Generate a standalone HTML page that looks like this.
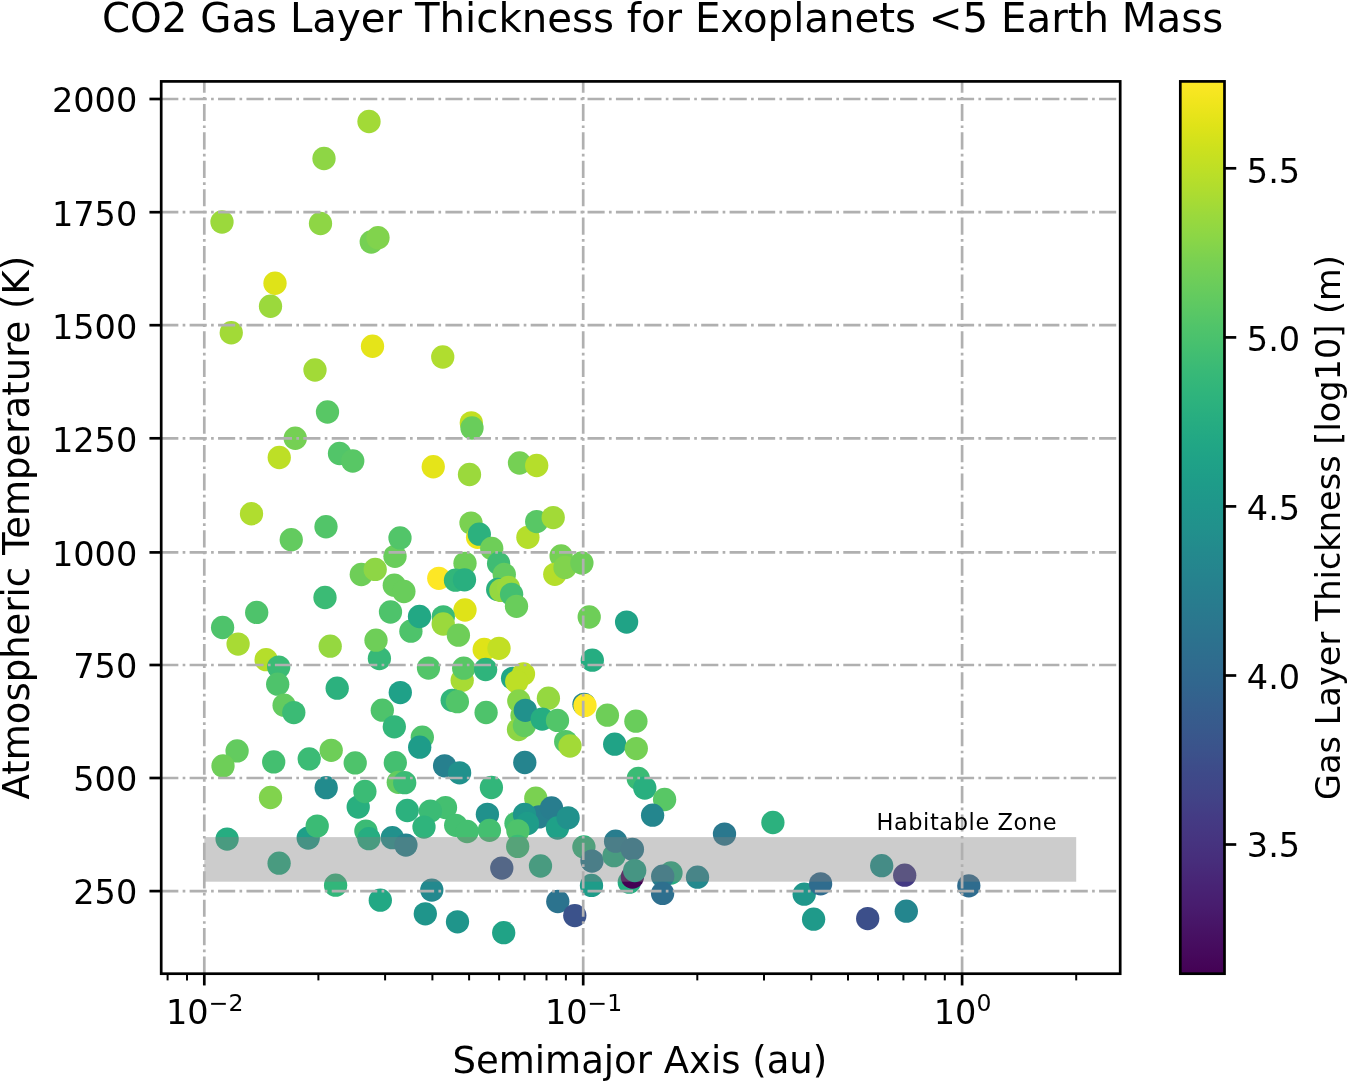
<!DOCTYPE html><html><head><meta charset="utf-8"><title>CO2 Gas Layer Thickness</title><style>html,body{margin:0;padding:0;background:#fff}body{width:1348px;height:1082px;overflow:hidden}</style></head><body><svg width="1348" height="1082" viewBox="0 0 1348 1082" style="display:block;font-family:'DejaVu Sans','Liberation Sans',sans-serif;filter:blur(0.55px)">
<defs><linearGradient id="vg" x1="0" y1="0" x2="0" y2="1"><stop offset="0.0000" stop-color="#fde725"/><stop offset="0.0250" stop-color="#efe51c"/><stop offset="0.0500" stop-color="#dfe318"/><stop offset="0.0750" stop-color="#cde11d"/><stop offset="0.1000" stop-color="#bddf26"/><stop offset="0.1250" stop-color="#addc30"/><stop offset="0.1500" stop-color="#9bd93c"/><stop offset="0.1750" stop-color="#8bd646"/><stop offset="0.2000" stop-color="#7ad151"/><stop offset="0.2250" stop-color="#6ccd5a"/><stop offset="0.2500" stop-color="#5ec962"/><stop offset="0.2750" stop-color="#50c46a"/><stop offset="0.3000" stop-color="#44bf70"/><stop offset="0.3250" stop-color="#38b977"/><stop offset="0.3500" stop-color="#2fb47c"/><stop offset="0.3750" stop-color="#28ae80"/><stop offset="0.4000" stop-color="#22a884"/><stop offset="0.4250" stop-color="#1fa287"/><stop offset="0.4500" stop-color="#1e9c89"/><stop offset="0.4750" stop-color="#1f968b"/><stop offset="0.5000" stop-color="#21918c"/><stop offset="0.5250" stop-color="#238a8d"/><stop offset="0.5500" stop-color="#25848e"/><stop offset="0.5750" stop-color="#277e8e"/><stop offset="0.6000" stop-color="#2a788e"/><stop offset="0.6250" stop-color="#2c728e"/><stop offset="0.6500" stop-color="#2f6c8e"/><stop offset="0.6750" stop-color="#31668e"/><stop offset="0.7000" stop-color="#355f8d"/><stop offset="0.7250" stop-color="#38598c"/><stop offset="0.7500" stop-color="#3b528b"/><stop offset="0.7750" stop-color="#3e4a89"/><stop offset="0.8000" stop-color="#414487"/><stop offset="0.8250" stop-color="#443b84"/><stop offset="0.8500" stop-color="#463480"/><stop offset="0.8750" stop-color="#472d7b"/><stop offset="0.9000" stop-color="#482475"/><stop offset="0.9250" stop-color="#481c6e"/><stop offset="0.9500" stop-color="#471365"/><stop offset="0.9750" stop-color="#460a5d"/><stop offset="1.0000" stop-color="#440154"/></linearGradient><clipPath id="ac"><rect x="161.2" y="81.4" width="959.0" height="892.3000000000001"/></clipPath></defs>
<rect width="1348" height="1082" fill="#fff"/>
<g clip-path="url(#ac)">
<circle cx="369.0" cy="121.5" r="11.65" fill="#a2da37"/>
<circle cx="324.0" cy="158.5" r="11.65" fill="#8ed645"/>
<circle cx="222.0" cy="222.0" r="11.65" fill="#9bd93c"/>
<circle cx="320.5" cy="223.5" r="11.65" fill="#8ed645"/>
<circle cx="371.25" cy="242.0" r="11.65" fill="#75d054"/>
<circle cx="378.0" cy="237.75" r="11.65" fill="#81d34d"/>
<circle cx="275.0" cy="283.25" r="11.65" fill="#dfe318"/>
<circle cx="270.5" cy="306.25" r="11.65" fill="#9bd93c"/>
<circle cx="231.25" cy="332.75" r="11.65" fill="#a2da37"/>
<circle cx="372.5" cy="346.25" r="11.65" fill="#e5e419"/>
<circle cx="442.75" cy="357.0" r="11.65" fill="#b0dd2f"/>
<circle cx="315.0" cy="370.0" r="11.65" fill="#a2da37"/>
<circle cx="327.5" cy="412.0" r="11.65" fill="#58c765"/>
<circle cx="471.3" cy="422.8" r="11.65" fill="#c2df23"/>
<circle cx="472.0" cy="428.0" r="11.65" fill="#69cd5b"/>
<circle cx="295.25" cy="438.25" r="11.65" fill="#75d054"/>
<circle cx="279.25" cy="457.5" r="11.65" fill="#bddf26"/>
<circle cx="339.5" cy="453.5" r="11.65" fill="#52c569"/>
<circle cx="352.75" cy="461.0" r="11.65" fill="#58c765"/>
<circle cx="433.25" cy="466.75" r="11.65" fill="#e5e419"/>
<circle cx="469.5" cy="474.5" r="11.65" fill="#9bd93c"/>
<circle cx="519.5" cy="463.0" r="11.65" fill="#75d054"/>
<circle cx="536.7" cy="465.5" r="11.65" fill="#b5de2b"/>
<circle cx="251.5" cy="513.75" r="11.65" fill="#b0dd2f"/>
<circle cx="326.0" cy="526.75" r="11.65" fill="#52c569"/>
<circle cx="291.25" cy="539.75" r="11.65" fill="#63cb5f"/>
<circle cx="395.0" cy="556.3" r="11.65" fill="#69cd5b"/>
<circle cx="400.0" cy="537.9" r="11.65" fill="#52c569"/>
<circle cx="471.0" cy="523.1" r="11.65" fill="#7ad151"/>
<circle cx="477.6" cy="537.3" r="11.65" fill="#ece51b"/>
<circle cx="479.3" cy="534.2" r="11.65" fill="#2cb17e"/>
<circle cx="491.75" cy="548.4" r="11.65" fill="#6ece58"/>
<circle cx="527.9" cy="537.3" r="11.65" fill="#b5de2b"/>
<circle cx="536.7" cy="521.6" r="11.65" fill="#58c765"/>
<circle cx="553.2" cy="517.6" r="11.65" fill="#a2da37"/>
<circle cx="465.0" cy="563.3" r="11.65" fill="#6ece58"/>
<circle cx="498.6" cy="563.5" r="11.65" fill="#3fbc73"/>
<circle cx="504.3" cy="574.5" r="11.65" fill="#63cb5f"/>
<circle cx="438.8" cy="578.3" r="11.65" fill="#fde725"/>
<circle cx="455.5" cy="580.2" r="11.65" fill="#32b67a"/>
<circle cx="464.5" cy="579.8" r="11.65" fill="#29af7f"/>
<circle cx="361.3" cy="574.5" r="11.65" fill="#6ece58"/>
<circle cx="375.2" cy="569.4" r="11.65" fill="#8ed645"/>
<circle cx="394.3" cy="585.2" r="11.65" fill="#69cd5b"/>
<circle cx="403.9" cy="591.5" r="11.65" fill="#69cd5b"/>
<circle cx="561.1" cy="556.0" r="11.65" fill="#75d054"/>
<circle cx="554.8" cy="574.3" r="11.65" fill="#b5de2b"/>
<circle cx="565.0" cy="567.5" r="11.65" fill="#81d34d"/>
<circle cx="581.9" cy="563.0" r="11.65" fill="#6ece58"/>
<circle cx="497.7" cy="589.4" r="11.65" fill="#29af7f"/>
<circle cx="500.9" cy="590.4" r="11.65" fill="#95d840"/>
<circle cx="508.4" cy="587.5" r="11.65" fill="#9bd93c"/>
<circle cx="511.6" cy="594.3" r="11.65" fill="#44bf70"/>
<circle cx="516.5" cy="606.3" r="11.65" fill="#69cd5b"/>
<circle cx="325.0" cy="597.5" r="11.65" fill="#3bbb75"/>
<circle cx="256.7" cy="612.4" r="11.65" fill="#4ec36b"/>
<circle cx="465.0" cy="610.0" r="11.65" fill="#dfe318"/>
<circle cx="443.3" cy="616.8" r="11.65" fill="#3bbb75"/>
<circle cx="443.2" cy="624.0" r="11.65" fill="#9bd93c"/>
<circle cx="458.4" cy="635.2" r="11.65" fill="#6ece58"/>
<circle cx="589.2" cy="617.0" r="11.65" fill="#6ece58"/>
<circle cx="626.6" cy="622.1" r="11.65" fill="#20a386"/>
<circle cx="592.3" cy="660.2" r="11.65" fill="#26ad81"/>
<circle cx="390.5" cy="612.0" r="11.65" fill="#4ec36b"/>
<circle cx="410.9" cy="631.2" r="11.65" fill="#4ec36b"/>
<circle cx="419.5" cy="616.5" r="11.65" fill="#22a884"/>
<circle cx="222.6" cy="627.5" r="11.65" fill="#4ec36b"/>
<circle cx="238.1" cy="644.1" r="11.65" fill="#a8db34"/>
<circle cx="266.1" cy="659.7" r="11.65" fill="#b5de2b"/>
<circle cx="278.7" cy="667.1" r="11.65" fill="#3bbb75"/>
<circle cx="277.7" cy="684.2" r="11.65" fill="#4ec36b"/>
<circle cx="284.1" cy="705.2" r="11.65" fill="#63cb5f"/>
<circle cx="293.8" cy="712.6" r="11.65" fill="#3bbb75"/>
<circle cx="330.2" cy="646.2" r="11.65" fill="#95d840"/>
<circle cx="337.2" cy="688.2" r="11.65" fill="#2cb17e"/>
<circle cx="379.4" cy="658.5" r="11.65" fill="#37b878"/>
<circle cx="376.0" cy="640.2" r="11.65" fill="#6ece58"/>
<circle cx="484.2" cy="649.4" r="11.65" fill="#dfe318"/>
<circle cx="499.0" cy="648.3" r="11.65" fill="#c2df23"/>
<circle cx="428.5" cy="668.1" r="11.65" fill="#52c569"/>
<circle cx="462.2" cy="680.2" r="11.65" fill="#a8db34"/>
<circle cx="463.7" cy="668.2" r="11.65" fill="#58c765"/>
<circle cx="485.6" cy="669.5" r="11.65" fill="#2fb47c"/>
<circle cx="512.6" cy="678.3" r="11.65" fill="#21a685"/>
<circle cx="523.5" cy="674.0" r="11.65" fill="#bddf26"/>
<circle cx="516.7" cy="681.8" r="11.65" fill="#bddf26"/>
<circle cx="400.3" cy="692.6" r="11.65" fill="#1fa188"/>
<circle cx="452.2" cy="700.3" r="11.65" fill="#32b67a"/>
<circle cx="457.4" cy="701.7" r="11.65" fill="#52c569"/>
<circle cx="486.1" cy="712.5" r="11.65" fill="#4ec36b"/>
<circle cx="522.0" cy="715.5" r="11.65" fill="#7ad151"/>
<circle cx="518.8" cy="701.0" r="11.65" fill="#86d549"/>
<circle cx="518.5" cy="729.6" r="11.65" fill="#8ed645"/>
<circle cx="524.4" cy="725.5" r="11.65" fill="#63cb5f"/>
<circle cx="525.3" cy="710.3" r="11.65" fill="#21918c"/>
<circle cx="548.4" cy="698.2" r="11.65" fill="#95d840"/>
<circle cx="542.2" cy="719.1" r="11.65" fill="#26ad81"/>
<circle cx="557.5" cy="720.4" r="11.65" fill="#52c569"/>
<circle cx="584.0" cy="704.3" r="11.65" fill="#25848e"/>
<circle cx="585.0" cy="705.4" r="11.65" fill="#fde725"/>
<circle cx="607.4" cy="715.2" r="11.65" fill="#6ece58"/>
<circle cx="635.9" cy="721.2" r="11.65" fill="#69cd5b"/>
<circle cx="614.7" cy="744.2" r="11.65" fill="#20a386"/>
<circle cx="636.3" cy="748.6" r="11.65" fill="#75d054"/>
<circle cx="565.7" cy="741.6" r="11.65" fill="#52c569"/>
<circle cx="570.0" cy="746.0" r="11.65" fill="#a2da37"/>
<circle cx="382.3" cy="710.2" r="11.65" fill="#4ec36b"/>
<circle cx="394.3" cy="726.8" r="11.65" fill="#32b67a"/>
<circle cx="422.3" cy="737.2" r="11.65" fill="#4ec36b"/>
<circle cx="419.7" cy="747.2" r="11.65" fill="#1e9c89"/>
<circle cx="524.8" cy="762.5" r="11.65" fill="#25848e"/>
<circle cx="444.6" cy="765.8" r="11.65" fill="#27808e"/>
<circle cx="459.6" cy="772.8" r="11.65" fill="#21918c"/>
<circle cx="237.1" cy="750.9" r="11.65" fill="#63cb5f"/>
<circle cx="223.0" cy="765.9" r="11.65" fill="#6ece58"/>
<circle cx="273.7" cy="761.9" r="11.65" fill="#44bf70"/>
<circle cx="309.2" cy="758.9" r="11.65" fill="#3bbb75"/>
<circle cx="331.2" cy="750.3" r="11.65" fill="#6ece58"/>
<circle cx="355.2" cy="762.9" r="11.65" fill="#4ec36b"/>
<circle cx="395.3" cy="762.7" r="11.65" fill="#44bf70"/>
<circle cx="398.3" cy="782.3" r="11.65" fill="#63cb5f"/>
<circle cx="404.7" cy="782.7" r="11.65" fill="#3bbb75"/>
<circle cx="326.2" cy="787.7" r="11.65" fill="#228b8d"/>
<circle cx="358.2" cy="807.1" r="11.65" fill="#29af7f"/>
<circle cx="364.9" cy="791.5" r="11.65" fill="#3bbb75"/>
<circle cx="270.5" cy="797.5" r="11.65" fill="#81d34d"/>
<circle cx="491.4" cy="787.5" r="11.65" fill="#32b67a"/>
<circle cx="638.3" cy="778.4" r="11.65" fill="#3bbb75"/>
<circle cx="644.8" cy="788.1" r="11.65" fill="#29af7f"/>
<circle cx="664.6" cy="799.5" r="11.65" fill="#58c765"/>
<circle cx="652.6" cy="815.2" r="11.65" fill="#24868e"/>
<circle cx="535.8" cy="798.2" r="11.65" fill="#7ad151"/>
<circle cx="539.0" cy="816.9" r="11.65" fill="#27808e"/>
<circle cx="551.5" cy="808.0" r="11.65" fill="#287d8e"/>
<circle cx="516.0" cy="823.3" r="11.65" fill="#44bf70"/>
<circle cx="524.5" cy="814.5" r="11.65" fill="#1f958b"/>
<circle cx="527.5" cy="823.4" r="11.65" fill="#1e9c89"/>
<circle cx="557.5" cy="828.0" r="11.65" fill="#1fa188"/>
<circle cx="568.1" cy="817.8" r="11.65" fill="#21918c"/>
<circle cx="487.4" cy="814.3" r="11.65" fill="#21918c"/>
<circle cx="489.4" cy="830.3" r="11.65" fill="#44bf70"/>
<circle cx="517.9" cy="830.8" r="11.65" fill="#4ec36b"/>
<circle cx="517.7" cy="846.4" r="11.65" fill="#3bbb75"/>
<circle cx="445.5" cy="807.6" r="11.65" fill="#44bf70"/>
<circle cx="455.7" cy="825.3" r="11.65" fill="#44bf70"/>
<circle cx="467.1" cy="831.5" r="11.65" fill="#44bf70"/>
<circle cx="407.3" cy="810.5" r="11.65" fill="#2cb17e"/>
<circle cx="430.4" cy="811.1" r="11.65" fill="#3bbb75"/>
<circle cx="424.0" cy="827.1" r="11.65" fill="#2fb47c"/>
<circle cx="227.1" cy="839.1" r="11.65" fill="#26ad81"/>
<circle cx="308.2" cy="838.1" r="11.65" fill="#1f9f88"/>
<circle cx="317.2" cy="826.1" r="11.65" fill="#3bbb75"/>
<circle cx="365.9" cy="831.1" r="11.65" fill="#3bbb75"/>
<circle cx="368.9" cy="838.7" r="11.65" fill="#26ad81"/>
<circle cx="392.3" cy="837.7" r="11.65" fill="#21918c"/>
<circle cx="405.9" cy="845.1" r="11.65" fill="#25848e"/>
<circle cx="279.1" cy="863.2" r="11.65" fill="#26ad81"/>
<circle cx="335.6" cy="885.2" r="11.65" fill="#32b67a"/>
<circle cx="380.3" cy="900.2" r="11.65" fill="#22a884"/>
<circle cx="431.8" cy="890.1" r="11.65" fill="#23898e"/>
<circle cx="425.3" cy="913.8" r="11.65" fill="#1f958b"/>
<circle cx="457.5" cy="921.8" r="11.65" fill="#1f958b"/>
<circle cx="503.7" cy="932.7" r="11.65" fill="#20a386"/>
<circle cx="501.8" cy="868.1" r="11.65" fill="#38588c"/>
<circle cx="540.5" cy="866.0" r="11.65" fill="#26ad81"/>
<circle cx="583.9" cy="846.9" r="11.65" fill="#32b67a"/>
<circle cx="592.0" cy="861.1" r="11.65" fill="#287d8e"/>
<circle cx="591.5" cy="885.4" r="11.65" fill="#1e9c89"/>
<circle cx="557.8" cy="901.5" r="11.65" fill="#2c738e"/>
<circle cx="574.8" cy="915.6" r="11.65" fill="#3b528b"/>
<circle cx="614.0" cy="855.7" r="11.65" fill="#26ad81"/>
<circle cx="615.6" cy="841.2" r="11.65" fill="#287d8e"/>
<circle cx="632.4" cy="849.3" r="11.65" fill="#297a8e"/>
<circle cx="629.3" cy="882.2" r="11.65" fill="#26ad81"/>
<circle cx="632.4" cy="877.0" r="11.65" fill="#440154"/>
<circle cx="634.7" cy="870.6" r="11.65" fill="#20a386"/>
<circle cx="671.0" cy="873.0" r="11.65" fill="#26ad81"/>
<circle cx="662.7" cy="876.2" r="11.65" fill="#287d8e"/>
<circle cx="662.6" cy="893.4" r="11.65" fill="#2e6f8e"/>
<circle cx="697.5" cy="877.2" r="11.65" fill="#23898e"/>
<circle cx="724.5" cy="834.1" r="11.65" fill="#2a788e"/>
<circle cx="772.9" cy="822.5" r="11.65" fill="#2cb17e"/>
<circle cx="804.2" cy="894.2" r="11.65" fill="#1f978b"/>
<circle cx="820.6" cy="883.8" r="11.65" fill="#2f6c8e"/>
<circle cx="813.6" cy="919.2" r="11.65" fill="#1f9a8a"/>
<circle cx="867.7" cy="918.6" r="11.65" fill="#3c4f8a"/>
<circle cx="881.7" cy="865.7" r="11.65" fill="#1f958b"/>
<circle cx="904.7" cy="875.2" r="11.65" fill="#443a83"/>
<circle cx="906.3" cy="911.2" r="11.65" fill="#24868e"/>
<circle cx="968.8" cy="885.8" r="11.65" fill="#2f6c8e"/>
<rect x="204.3" y="837.1" width="871.9" height="44.6" fill="#808080" fill-opacity="0.4"/>
<g stroke="#b0b0b0" stroke-width="2.7" stroke-dasharray="17.16 4.29 2.68 4.29" fill="none">
<path d="M161.2 99.0H1120.2"/>
<path d="M161.2 212.2H1120.2"/>
<path d="M161.2 325.2H1120.2"/>
<path d="M161.2 438.3H1120.2"/>
<path d="M161.2 552.4H1120.2"/>
<path d="M161.2 665.0H1120.2"/>
<path d="M161.2 778.0H1120.2"/>
<path d="M161.2 891.1H1120.2"/>
<path d="M204.3 973.7V81.4"/>
<path d="M583.2 973.7V81.4"/>
<path d="M962.1 973.7V81.4"/>
</g></g>
<g stroke="#000" stroke-width="2.7" fill="none">
<path d="M161.2 99.0h-11.75"/>
<path d="M161.2 212.2h-11.75"/>
<path d="M161.2 325.2h-11.75"/>
<path d="M161.2 438.3h-11.75"/>
<path d="M161.2 552.4h-11.75"/>
<path d="M161.2 665.0h-11.75"/>
<path d="M161.2 778.0h-11.75"/>
<path d="M161.2 891.1h-11.75"/>
<path d="M204.3 973.7v11.75"/>
<path d="M583.2 973.7v11.75"/>
<path d="M962.1 973.7v11.75"/>
</g>
<g stroke="#000" stroke-width="2.0" fill="none">
<path d="M167.6 973.7v6.7"/>
<path d="M187.0 973.7v6.7"/>
<path d="M318.4 973.7v6.7"/>
<path d="M385.1 973.7v6.7"/>
<path d="M432.4 973.7v6.7"/>
<path d="M469.1 973.7v6.7"/>
<path d="M499.1 973.7v6.7"/>
<path d="M524.5 973.7v6.7"/>
<path d="M546.5 973.7v6.7"/>
<path d="M565.9 973.7v6.7"/>
<path d="M697.3 973.7v6.7"/>
<path d="M764.0 973.7v6.7"/>
<path d="M811.3 973.7v6.7"/>
<path d="M848.0 973.7v6.7"/>
<path d="M878.0 973.7v6.7"/>
<path d="M903.4 973.7v6.7"/>
<path d="M925.4 973.7v6.7"/>
<path d="M944.8 973.7v6.7"/>
<path d="M1076.2 973.7v6.7"/>
</g>
<rect x="161.2" y="81.4" width="959.0" height="892.3000000000001" fill="none" stroke="#000" stroke-width="2.7"/>
<rect x="1180.3" y="81.4" width="44.2" height="892.3000000000001" fill="url(#vg)" stroke="#000" stroke-width="2.7"/>
<g stroke="#000" stroke-width="2.7" fill="none">
<path d="M1224.5 168.3h11.75"/>
<path d="M1224.5 337.4h11.75"/>
<path d="M1224.5 506.4h11.75"/>
<path d="M1224.5 675.5h11.75"/>
<path d="M1224.5 844.5h11.75"/>
</g>
<g fill="#000" font-size="33.56px">
<text x="137.3" y="112.3" text-anchor="end">2000</text>
<text x="137.3" y="225.5" text-anchor="end">1750</text>
<text x="137.3" y="338.5" text-anchor="end">1500</text>
<text x="137.3" y="451.6" text-anchor="end">1250</text>
<text x="137.3" y="565.7" text-anchor="end">1000</text>
<text x="137.3" y="678.3" text-anchor="end">750</text>
<text x="137.3" y="791.3" text-anchor="end">500</text>
<text x="137.3" y="904.4" text-anchor="end">250</text>
<text x="1246.8" y="183.2">5.5</text>
<text x="1246.8" y="350.8">5.0</text>
<text x="1246.8" y="519.5">4.5</text>
<text x="1246.8" y="688.5">4.0</text>
<text x="1246.8" y="856.9">3.5</text>
<text x="166.0" y="1023.9">10<tspan font-size="23.5px" dy="-12.8">−2</tspan></text>
<text x="544.9" y="1023.9">10<tspan font-size="23.5px" dy="-12.8">−1</tspan></text>
<text x="933.7" y="1023.9">10<tspan font-size="23.5px" dy="-12.8">0</tspan></text>
</g>
<text x="639.9" y="1072.8" font-size="37.0px" text-anchor="middle">Semimajor Axis (au)</text>
<text transform="translate(29.2 527.6) rotate(-90)" font-size="37.0px" text-anchor="middle">Atmospheric Temperature (K)</text>
<text transform="translate(1340.2 527.6) rotate(-90)" font-size="33.56px" text-anchor="middle">Gas Layer Thickness [log10] (m)</text>
<text x="662.6" y="32.0" font-size="40.27px" text-anchor="middle">CO2 Gas Layer Thickness for Exoplanets &lt;5 Earth Mass</text>
<text x="876.4" y="830.4" font-size="22.5px" letter-spacing="0.58">Habitable Zone</text>
</svg></body></html>
